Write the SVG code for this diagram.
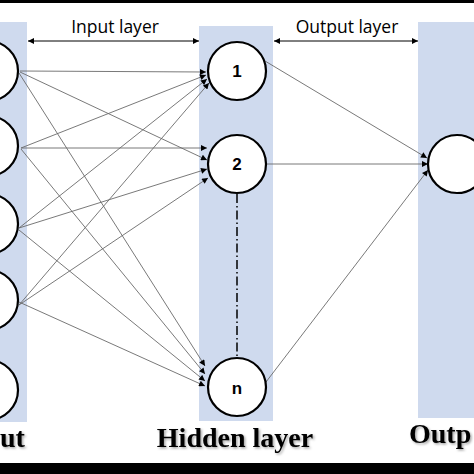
<svg xmlns="http://www.w3.org/2000/svg" width="474" height="474" viewBox="0 0 474 474">
<style>
.band{fill:#cfdaee}
.node{fill:#fff;stroke:#000;stroke-width:2.2}
.lnk{stroke:#6a6a6a;stroke-width:0.9;fill:none;marker-end:url(#ah)}
.dim{stroke:#000;stroke-width:1;fill:none;marker-start:url(#ah2);marker-end:url(#ah)}
.num{font-family:"Liberation Sans",Arial,sans-serif;font-weight:bold;font-size:17px;text-anchor:middle;fill:#000}
.top{font-family:"Open Sans","Liberation Sans",sans-serif;font-size:17.5px;fill:#000;text-anchor:middle}
.big{font-family:"Liberation Serif","Times New Roman",serif;font-weight:bold;font-size:28px;fill:#000;filter:url(#sh)}
</style>
<defs>
<marker id="ah" viewBox="0 0 10 10" refX="10" refY="5" markerWidth="7" markerHeight="6" markerUnits="userSpaceOnUse" orient="auto"><path d="M0,0 L10,5 L0,10 z" fill="#000"/></marker>
<marker id="ah2" viewBox="0 0 10 10" refX="0" refY="5" markerWidth="7" markerHeight="6" markerUnits="userSpaceOnUse" orient="auto"><path d="M10,0 L0,5 L10,10 z" fill="#000"/></marker>
<filter id="sh" x="-10%" y="-20%" width="130%" height="150%"><feDropShadow dx="1.5" dy="1.5" stdDeviation="1.2" flood-color="#000" flood-opacity="0.35"/></filter>
</defs>
<rect x="0" y="0" width="474" height="474" fill="#fff"/>
<rect x="0" y="0" width="474" height="3" fill="#000"/>
<rect x="0" y="463" width="474" height="11" fill="#000"/>
<rect class="band" x="0" y="22" width="27" height="400"/>
<rect class="band" x="199" y="26" width="74" height="395"/>
<rect class="band" x="418" y="22" width="56" height="396"/>
<g id="connectors">
<line class="dim" x1="28" y1="41" x2="199" y2="41"/>
<line class="dim" x1="274" y1="41" x2="418" y2="41"/>
<line class="lnk" x1="20" y1="71" x2="206" y2="72"/>
<line class="lnk" x1="20" y1="72" x2="207" y2="160"/>
<line class="lnk" x1="19" y1="73" x2="205" y2="366"/>
<line class="lnk" x1="21" y1="148" x2="206" y2="75"/>
<line class="lnk" x1="21" y1="148" x2="207" y2="148"/>
<line class="lnk" x1="21" y1="149" x2="205" y2="374"/>
<line class="lnk" x1="19" y1="228" x2="207" y2="79"/>
<line class="lnk" x1="19" y1="228" x2="207" y2="169"/>
<line class="lnk" x1="19" y1="230" x2="205" y2="381"/>
<line class="lnk" x1="19" y1="305" x2="209" y2="83"/>
<line class="lnk" x1="19" y1="305" x2="208" y2="178"/>
<line class="lnk" x1="19" y1="302" x2="205" y2="386"/>
<line class="lnk" x1="265" y1="61" x2="427" y2="158"/>
<line class="lnk" x1="266" y1="164" x2="428" y2="164"/>
<line class="lnk" x1="266" y1="382" x2="428" y2="170"/>
<line x1="237" y1="194" x2="237" y2="357" stroke="#000" stroke-width="1.5" stroke-dasharray="9 3 1.5 3"/>
</g>
<g id="in1"><circle class="node" cx="-12" cy="71" r="30"/></g>
<g id="in2"><circle class="node" cx="-12" cy="146" r="30"/></g>
<g id="in3"><circle class="node" cx="-12" cy="224" r="30"/></g>
<g id="in4"><circle class="node" cx="-12" cy="300" r="30"/></g>
<g id="in5"><circle class="node" cx="-12" cy="390" r="30"/></g>
<g id="h1"><circle class="node" cx="237" cy="71" r="29"/><text class="num" x="237" y="77">1</text></g>
<g id="h2"><circle class="node" cx="237" cy="164" r="29"/><text class="num" x="237" y="170">2</text></g>
<g id="hn"><circle class="node" cx="237" cy="387" r="29"/><text class="num" x="237" y="394">n</text></g>
<g id="out"><circle class="node" cx="457" cy="164" r="29"/></g>
<text class="top" x="115" y="33">Input layer</text>
<text class="top" x="347" y="33">Output layer</text>
<text class="big" x="0" y="447">ut</text>
<text class="big" x="235" y="447" text-anchor="middle">Hidden layer</text>
<text class="big" x="409" y="443">Outp</text>
</svg>
